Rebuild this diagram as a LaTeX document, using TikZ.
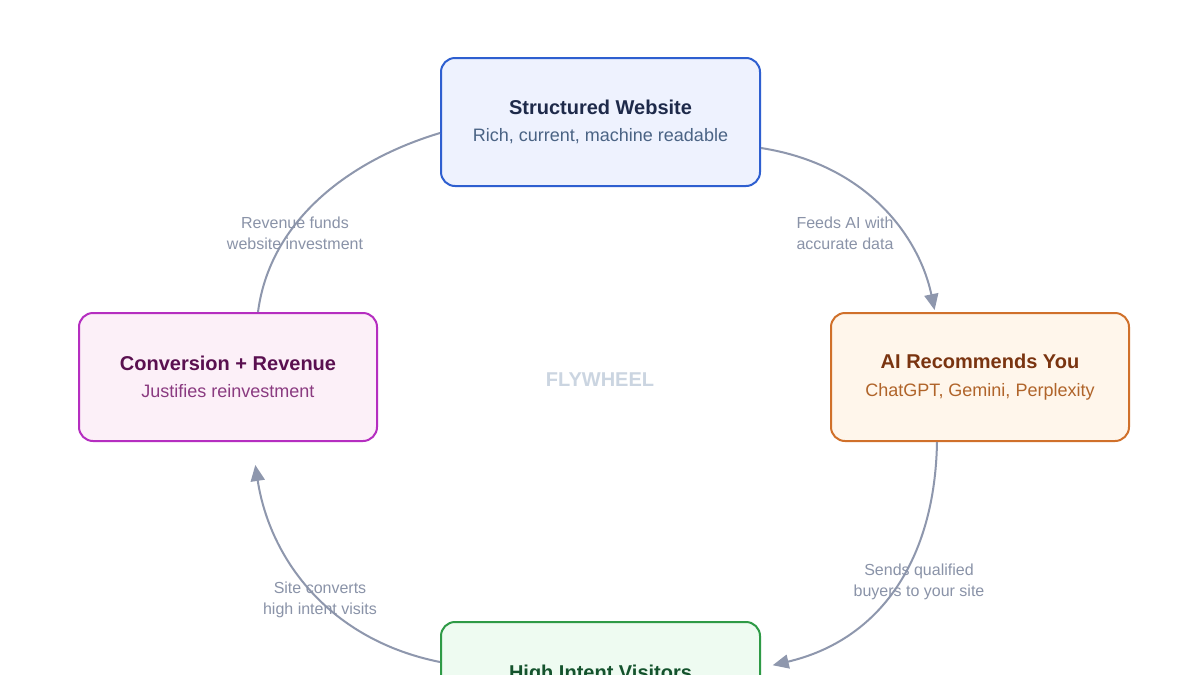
\documentclass[tikz,border=0pt]{standalone}
\usepackage{fontspec}
\setmainfont{Liberation Sans}
\usetikzlibrary{arrows.meta}
\definecolor{ln}{HTML}{8E97AD}
\definecolor{lb}{HTML}{8A93A8}
\begin{document}
\begin{tikzpicture}[x=1pt,y=-1pt,
 box/.style={draw,line width=2pt,rounded corners=14pt,minimum width=319pt,minimum height=128pt,align=center,inner sep=0pt},
 conn/.style={draw=ln,line width=2pt},
 arr/.style={conn,-{Triangle[length=16pt,width=14pt]},shorten >=2pt},
 lbl/.style={text=lb,font=\fontsize{16}{21}\selectfont,align=center}]
\useasboundingbox[fill=white] (0,0) rectangle (1200,675);
\node[box,draw={rgb,255:red,46;green,95;blue,208},fill={rgb,255:red,238;green,242;blue,254}] (top) at (600.5,122)
 {{\fontsize{20}{26}\selectfont\bfseries\color[HTML]{1E2A4A}Structured Website}\\[13pt]{\fontsize{18}{22}\selectfont\color[HTML]{4A6384}Rich, current, machine readable}};
\node[box,minimum width=298pt,draw={rgb,255:red,208;green,112;blue,42},fill={rgb,255:red,255;green,246;blue,235}] (ai) at (980,377)
 {{\fontsize{20}{26}\selectfont\bfseries\color[HTML]{7A3410}AI Recommends You}\\[13pt]{\fontsize{18}{22}\selectfont\color[HTML]{B0642A}ChatGPT, Gemini, Perplexity}};
\node[box,minimum width=298pt,draw={rgb,255:red,181;green,46;blue,192},fill={rgb,255:red,252;green,240;blue,248}] (conv) at (228,377)
 {{\fontsize{20}{26}\selectfont\bfseries\color[HTML]{5A1050}Conversion + Revenue}\\[13pt]{\fontsize{18}{22}\selectfont\color[HTML]{8A3A80}Justifies reinvestment}};
\node[box,draw={rgb,255:red,46;green,154;blue,70},fill={rgb,255:red,238;green,251;blue,241}] (vis) at (600.5,686)
 {{\fontsize{20}{26}\selectfont\bfseries\color[HTML]{14532D}High Intent Visitors}\\[13pt]{\fontsize{18}{22}\selectfont\color[HTML]{2E7A46}\phantom{x}}};
\node[font=\fontsize{20}{24}\selectfont\bfseries,text={rgb,255:red,203;green,213;blue,225}] (fw) at (600,380) {FLYWHEEL};
\draw[arr] ([yshift=-26pt]top.east) .. controls (870,165) and (920,240) .. ([xshift=-45pt]ai.north);
\draw[arr,shorten >=12pt] ([xshift=-43pt]ai.south) .. controls (935,560) and (880,640) .. ([yshift=18pt]vis.east);
\draw[arr] ([yshift=24pt]vis.west) .. controls (330,640) and (270,560) .. ([xshift=27pt,yshift=-21pt]conv.south);
\draw[conn] ([xshift=30pt]conv.north) .. controls (270,220) and (350,160) .. ([yshift=-11pt]top.west);
\node[lbl] (l1) at (845,233) {Feeds AI with\\accurate data};
\node[lbl] (l2) at (919,582) {Sends qualified\\buyers to your site};
\node[lbl] (l3) at (320,600) {Site converts\\high intent visits};
\node[lbl] (l4) at (295,233) {Revenue funds\\website investment};
\end{tikzpicture}
\end{document}
